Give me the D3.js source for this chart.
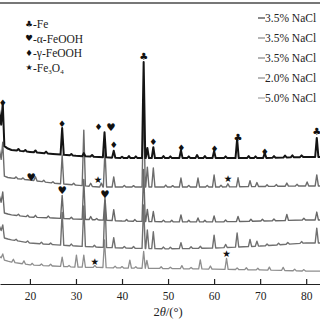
<!DOCTYPE html>
<html>
<head>
<meta charset="utf-8">
<script src="https://cdn.jsdelivr.net/npm/d3@7"></script>
<style>
  body { margin: 0; background: #fff; }
  svg { display: block; font-family: "Liberation Serif", "DejaVu Serif", serif; }
</style>
</head>
<body>
<div id="chart"></div>
<script>
// XRD patterns, 2theta in degrees, intensity in a.u. (offset stacked)

var seriesNames = ["3.5% NaCl", "3.5% NaCl", "3.5% NaCl", "2.0% NaCl", "5.0% NaCl"];

var tickValues = [20, 30, 40, 50, 60, 70, 80];

// background knots (2theta) and each pattern's background level there
var baseTheta = [13.0, 14.4, 15.2, 16, 20, 25, 30, 35, 40, 50, 60, 70, 80, 85];
var base1 = [65.5, 49.1, 48.2, 47.7, 47.0, 46.3, 45.6, 45.2, 44.8, 44.8, 44.8, 44.8, 45.2, 45.2];
var base2 = [51.2, 38.4, 37.9, 37.7, 37.0, 35.9, 35.2, 34.5, 34.5, 34.5, 34.5, 34.7, 34.9, 34.9];
var base3 = [33.5, 25.3, 24.9, 24.6, 23.8, 23.5, 23.1, 22.8, 22.4, 22.1, 22.1, 22.4, 22.8, 22.8];
var base4 = [22.1, 16.4, 16.0, 15.7, 14.6, 14.0, 13.5, 13.1, 12.8, 12.5, 12.8, 13.5, 14.6, 14.6];
var base5 = [10.3, 8.5, 8.1, 7.8, 6.8, 6.4, 6.0, 5.9, 5.7, 5.5, 5.3, 5.0, 4.6, 4.6];

// peaks: [2theta, height above background]
var peaks1 = [[14.1, 11.7], [17.5, 0.6], [19.0, 0.5], [21.2, 0.7], [23.5, 0.6], [27.0, 9.5],
    [29.0, 0.5], [31.7, 1.1], [33.5, 0.6], [36.2, 8.9], [38.2, 2.5], [40.0, 0.5], [41.5, 0.7],
    [43.0, 0.6], [44.7, 34.2], [45.5, 3.6], [46.8, 3.9], [49.0, 0.7], [50.5, 0.6], [52.8, 2.8],
    [54.5, 0.6], [56.3, 1.1], [58.0, 0.7], [60.0, 2.5], [62.5, 0.6], [65.0, 6.8], [67.5, 0.7],
    [69.0, 0.6], [71.0, 1.8], [73.0, 0.6], [75.4, 0.7], [77.0, 0.7], [79.0, 0.6], [82.3, 6.8]];
var peaks2 = [[14.1, 9.3], [17.0, 0.6], [18.5, 0.5], [21.2, 1.4], [23.0, 0.6], [25.0, 0.5],
    [27.0, 10.2], [29.5, 0.6], [31.7, 19.8], [33.2, 1.1], [35.5, 1.4], [36.3, 13.2], [38.2, 3.6],
    [40.5, 0.6], [42.5, 0.5], [44.7, 31.0], [45.5, 7.1], [46.8, 6.8], [49.5, 0.7], [51.0, 0.5],
    [52.8, 3.2], [54.5, 0.6], [56.5, 3.2], [58.5, 0.6], [60.0, 4.3], [61.5, 0.6], [63.0, 1.1],
    [65.2, 3.2], [67.8, 2.1], [69.3, 1.4], [71.5, 0.6], [73.5, 0.6], [75.8, 1.1], [78.0, 0.6],
    [80.2, 1.4], [82.3, 3.9]];
var peaks3 = [[14.1, 5.7], [17.5, 0.5], [19.5, 0.6], [21.2, 0.7], [24.0, 0.6], [27.0, 8.2],
    [29.0, 0.6], [31.7, 14.2], [33.2, 1.1], [34.5, 0.5], [36.3, 8.0], [38.2, 3.9], [41.0, 0.6],
    [42.8, 0.6], [44.7, 18.5], [45.5, 4.3], [46.8, 3.6], [49.0, 0.6], [50.8, 0.6], [52.8, 2.5],
    [54.5, 0.6], [56.5, 1.4], [58.0, 0.6], [60.0, 2.1], [62.5, 0.6], [65.2, 1.8], [68.0, 0.7],
    [70.5, 0.6], [73.0, 0.6], [75.8, 2.1], [79.5, 0.6], [82.3, 2.8]];
var peaks4 = [[14.1, 3.4], [17.0, 0.5], [19.5, 0.6], [22.5, 0.6], [24.5, 0.5], [27.0, 11.7],
    [29.0, 0.6], [31.7, 14.4], [34.0, 0.6], [36.3, 16.7], [38.2, 3.6], [40.5, 0.6], [42.5, 0.6],
    [44.7, 15.5], [45.5, 6.6], [46.8, 6.0], [49.0, 0.6], [50.5, 0.6], [52.8, 2.1], [55.0, 0.6],
    [57.0, 0.7], [60.0, 4.6], [62.5, 1.1], [65.0, 5.0], [67.8, 2.5], [69.3, 1.8], [71.5, 0.6],
    [74.0, 0.6], [76.0, 0.6], [79.0, 0.6], [82.3, 5.3]];
var peaks5 = [[14.1, 1.8], [16.4, 1.1], [18.7, 1.1], [20.5, 0.6], [22.5, 0.5], [24.5, 0.6],
    [27.0, 3.3], [28.5, 0.5], [30.1, 4.3], [31.7, 4.3], [34.1, 0.7], [36.2, 9.8], [38.5, 0.6],
    [40.0, 0.5], [41.7, 2.8], [43.0, 0.5], [44.7, 6.0], [45.4, 2.8], [48.5, 0.6], [50.5, 0.5],
    [53.0, 1.1], [55.0, 0.5], [57.0, 3.2], [59.2, 1.1], [62.7, 3.9], [65.0, 0.6], [67.0, 0.7],
    [69.5, 0.6], [72.0, 1.1], [75.0, 1.1], [77.5, 0.6], [79.5, 0.5]];

// phase marks: [2theta, intensity]
var feMarks = [[44.7, 80.8], [65.2, 52.3], [82.3, 54.4]];
var goethiteMarks = [[37.6, 55.9], [20.3, 38.1], [27.0, 33.5], [36.3, 32.0]];
var lepidocrociteMarks = [[14.1, 64.4], [27.0, 56.9], [34.9, 55.9], [38.2, 49.5], [46.8, 50.5],
    [52.9, 48.4], [60.1, 48.0], [71.0, 47.0]];
var magnetiteMarks = [[34.8, 37.0], [63.0, 37.4], [34.1, 7.8], [62.7, 10.7]];

var width = 320, height = 320;
var plotTop = 3, plotBottom = 284;
var colors = ["#141414", "#6c6c6c", "#686868", "#707070", "#8e8e8e"];
var strokes = [2.0, 1.4, 1.4, 1.4, 1.3];

var x = d3.scaleLinear().domain([13.5, 83.0]).range([0, width]);
var y = d3.scaleLinear().domain([0, 100]).range([plotBottom, plotTop]);

var svg = d3.select("#chart").append("svg")
    .attr("width", width)
    .attr("height", height);

svg.append("clipPath").attr("id", "plotclip")
    .append("rect").attr("x", 0).attr("y", plotTop).attr("width", width).attr("height", plotBottom - plotTop);

// top frame
svg.append("line")
    .attr("x1", 0).attr("x2", width)
    .attr("y1", plotTop).attr("y2", plotTop)
    .attr("stroke", "#4a4a4a")
    .attr("stroke-width", 1.3);

function buildPattern(base, peaks) {
    var bg = d3.scaleLinear().domain(baseTheta).range(base);
    var w = 0.35;
    var pts = [];
    baseTheta.forEach(function (t, i) {
        var inside = peaks.some(function (p) { return Math.abs(t - p[0]) <= w; });
        if (!inside) pts.push([t, base[i]]);
    });
    peaks.forEach(function (p) {
        pts.push([p[0] - w, bg(p[0] - w)]);
        pts.push([p[0], bg(p[0]) + p[1]]);
        pts.push([p[0] + w, bg(p[0] + w)]);
    });
    pts.sort(function (a, b) { return a[0] - b[0]; });
    return pts;
}

var patterns = [
    buildPattern(base1, peaks1),
    buildPattern(base2, peaks2),
    buildPattern(base3, peaks3),
    buildPattern(base4, peaks4),
    buildPattern(base5, peaks5)
];

var line = d3.line()
    .x(function (d) { return x(d[0]); })
    .y(function (d) { return y(d[1]); });

var plot = svg.append("g").attr("clip-path", "url(#plotclip)");

// draw bottom pattern first, black one on top
for (var i = patterns.length - 1; i >= 0; i--) {
    plot.append("path")
        .datum(patterns[i])
        .attr("fill", "none")
        .attr("stroke", colors[i])
        .attr("stroke-width", strokes[i])
        .attr("stroke-linejoin", "round")
        .attr("d", line);
}

// phase symbols
function drawMarks(data, glyph, size) {
    svg.selectAll(null)
        .data(data)
        .enter().append("text")
        .attr("x", function (d) { return x(d[0]); })
        .attr("y", function (d) { return y(d[1]); })
        .attr("dy", "0.35em")
        .attr("text-anchor", "middle")
        .attr("font-family", "DejaVu Sans")
        .attr("font-size", size)
        .attr("fill", "#111")
        .text(glyph);
}
drawMarks(feMarks, "\u2663", 10);
drawMarks(goethiteMarks, "\u2665", 10.5);
drawMarks(lepidocrociteMarks, "\u2666", 9);
drawMarks(magnetiteMarks, "\u2605", 9.5);

// x axis
var xAxis = d3.axisBottom(x).tickValues(tickValues).tickSize(-5).tickSizeOuter(0).tickPadding(8);
var ax = svg.append("g")
    .attr("transform", "translate(0," + plotBottom + ")")
    .call(xAxis);
ax.select(".domain").attr("stroke", "#222").attr("stroke-width", 1.2);
ax.selectAll(".tick line").attr("stroke", "#222").attr("stroke-width", 1.2);
ax.selectAll(".tick text")
    .attr("font-family", "Liberation Serif")
    .attr("font-size", 11.5)
    .attr("fill", "#222");

var xl = svg.append("text")
    .attr("x", 168)
    .attr("y", 316)
    .attr("text-anchor", "middle")
    .attr("font-size", 12.5)
    .attr("fill", "#222");
xl.append("tspan").text("2");
xl.append("tspan").attr("font-style", "italic").text("\u03b8");
xl.append("tspan").text("/(\u00b0)");

// phase legend (top left)
var phaseGlyphs = ["\u2663", "\u2665", "\u2666", "\u2605"];
var phaseLabels = ["-Fe", "-\u03b1-FeOOH", "-\u03b3-FeOOH", "-Fe3O4"];
phaseGlyphs.forEach(function (g, i) {
    var yy = 24 + i * 14.5;
    svg.append("text")
        .attr("x", 29).attr("y", yy).attr("dy", "0.35em")
        .attr("text-anchor", "middle")
        .attr("font-family", "DejaVu Sans")
        .attr("font-size", i == 3 ? 8 : 8.5)
        .attr("fill", "#111")
        .text(g);
    var t = svg.append("text")
        .attr("x", 33).attr("y", yy + 4)
        .attr("font-size", 11.5)
        .attr("fill", "#222");
    if (i == 3) {
        t.append("tspan").text("-Fe");
        t.append("tspan").attr("font-size", 7).attr("dy", 2.5).text("3");
        t.append("tspan").attr("dy", -2.5).text("O");
        t.append("tspan").attr("font-size", 7).attr("dy", 2.5).text("4");
    } else {
        t.text(phaseLabels[i]);
    }
});

// sample legend (top right)
seriesNames.forEach(function (name, i) {
    var yy = 18 + i * 20;
    svg.append("line")
        .attr("x1", 258).attr("x2", 265)
        .attr("y1", yy).attr("y2", yy)
        .attr("stroke", colors[i])
        .attr("stroke-width", 1);
    svg.append("text")
        .attr("x", 265).attr("y", yy + 4)
        .attr("font-size", 11.5)
        .attr("fill", "#222")
        .text(name);
});
</script>
</body>
</html>
